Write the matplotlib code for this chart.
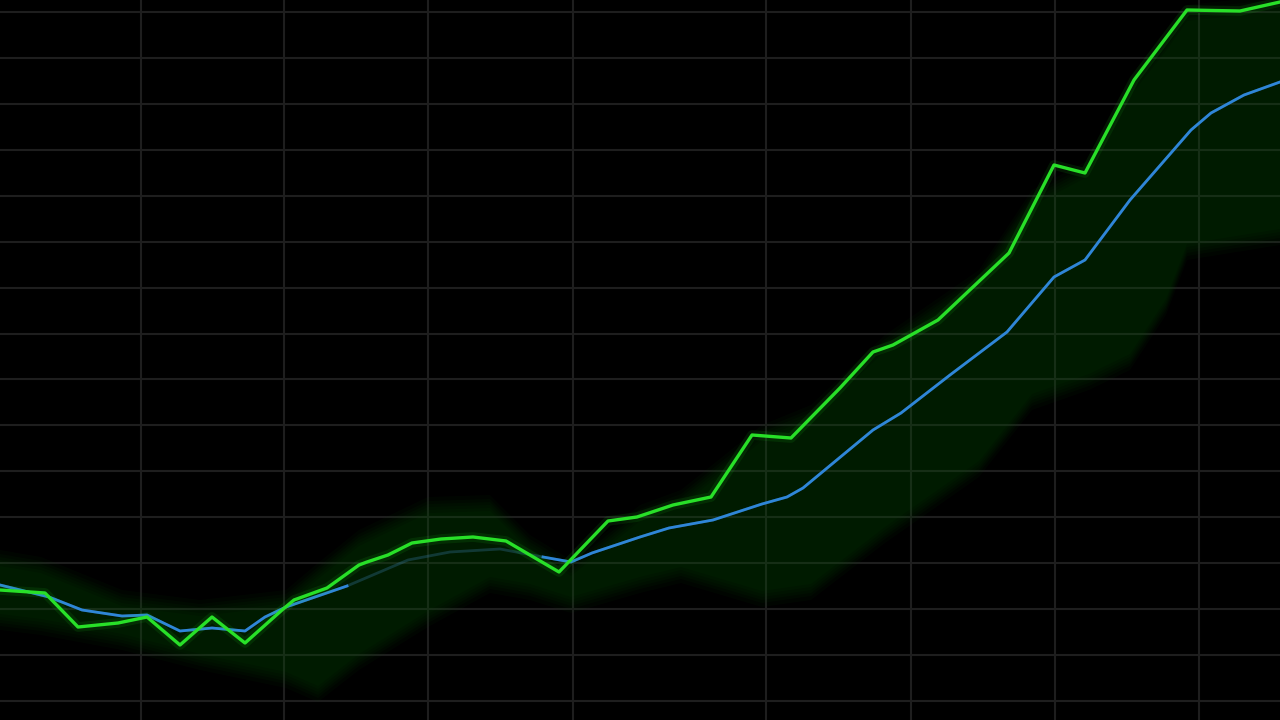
import matplotlib
matplotlib.use("Agg")
import matplotlib.pyplot as plt
import numpy as np

# ---- data (x in time units, y in value units) ----
green_x = [0, 45, 78, 118, 147, 180, 212, 245, 282, 294, 327, 359, 367, 388, 412, 441, 473, 506,
           559, 608, 637, 673, 711, 752, 791, 840, 873, 893, 938, 1009, 1054, 1085, 1134, 1187,
           1240, 1280]
green_y = [130, 127, 93, 97, 103, 75, 103, 77, 110, 120, 132, 155, 158, 165, 177, 181, 183, 179,
           148, 199, 203, 215, 223, 285, 282, 332, 368, 375, 400, 467, 555, 547, 640, 710,
           709, 718]

blue_x = [0, 49, 82, 122, 147, 180, 212, 245, 265, 286, 347, 408, 450, 500, 543, 571, 592, 640,
          669, 713, 762, 787, 803, 873, 901, 950, 1007, 1054, 1085, 1130, 1191, 1211, 1244, 1280]
blue_y = [135, 123, 110, 104, 105, 89, 92, 89, 103, 113, 134, 160, 168, 171, 163, 158, 167, 183,
          192, 200, 216, 223, 232, 290, 307, 345, 388, 443, 460, 520, 590, 607, 625, 638]

band_x = [0, 41, 122, 200, 286, 318, 359, 428, 490, 530, 571, 640, 681, 762, 811, 885, 979, 1032,
          1089, 1130, 1166, 1187, 1280]
band_hi = [160, 153, 120, 110, 120, 147, 180, 213, 215, 175, 150, 205, 220, 285, 305, 375, 440,
           520, 550, 630, 675, 705, 715]
band_lo = [100, 95, 80, 60, 42, 28, 60, 103, 137, 130, 117, 137, 147, 123, 130, 187, 253, 320,
           340, 360, 415, 470, 485]

x_grid = [141, 284, 428, 573, 766, 911, 1055, 1199]
y_grid = [19 + 45.93 * k for k in range(16)]

fig = plt.figure(figsize=(12.8, 7.2), dpi=100, facecolor="black")
ax = fig.add_axes([0, 0, 1, 1])
ax.set_facecolor("black")
ax.set_xlim(0, 1280)
ax.set_ylim(0, 720)
for s in ax.spines.values():
    s.set_visible(False)
ax.set_xticks(x_grid)
ax.set_yticks(y_grid)
ax.tick_params(length=0, labelbottom=False, labelleft=False)
ax.grid(True, color="#1e1e1e", linewidth=1.5)
ax.set_axisbelow(True)

# soft band
bx = np.array(band_x, float)
hi = np.array(band_hi, float)
lo = np.array(band_lo, float)
for e in [10, 6, 3, 0, -3, -6]:
    h = hi + e
    l = lo - e
    ok = h > l
    ax.fill_between(bx, l, h, where=ok, interpolate=True, color="#0c520c",
                    alpha=0.07, linewidth=0, zorder=1)

# blue line (dim segment in the middle)
bxa = np.array(blue_x, float)
bya = np.array(blue_y, float)
ax.plot(bxa, bya, color="#3a7fb0", linewidth=2.0, alpha=0.3, zorder=3)
m1 = bxa <= 347
m2 = bxa >= 543
ax.plot(bxa[m1], bya[m1], color="#2f86d8", linewidth=2.0, zorder=4)
ax.plot(bxa[m2], bya[m2], color="#2f86d8", linewidth=2.0, zorder=4)

# green line with glow
ax.plot(green_x, green_y, color="#22dd22", linewidth=7, alpha=0.10, zorder=5,
        solid_joinstyle="round")
ax.plot(green_x, green_y, color="#28e028", linewidth=2.4, zorder=6,
        solid_joinstyle="round")

fig.savefig("out.png", dpi=100, facecolor="black")
